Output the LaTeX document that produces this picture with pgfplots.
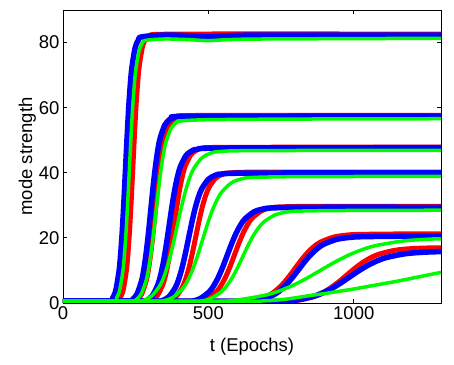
\documentclass[border=0pt]{standalone}
\usepackage{pgfplots}
\pgfplotsset{compat=1.18}
\usepackage{fontspec}
\setmainfont{Liberation Sans}
\usetikzlibrary{calc}
\definecolor{mblue}{RGB}{0,0,255}
\definecolor{mred}{RGB}{255,0,0}
\definecolor{mgreen}{RGB}{0,250,0}
\newcommand{\lbl}{\fontsize{18.5bp}{22bp}\selectfont}
\pgfplotsset{
  rd/.style={mred, line width=5bp, smooth, mark=none, line join=round},
  bl/.style={mblue, line width=5.5bp, smooth, mark=none, line join=round},
  gr/.style={mgreen, line width=3.5bp, smooth, mark=none, line join=round},
}
\begin{document}
\begin{tikzpicture}
\begin{axis}[name=ax, scale only axis, width=378bp, height=293bp,
  xmin=0, xmax=1300, ymin=0, ymax=90,
  xtick={0,500,1000}, ytick={0,20,40,60,80},
  tick align=inside, tick pos=both, major tick length=4bp,
  axis line style={line width=0.8bp},
  every tick/.style={black, line width=0.8bp},
  /pgf/number format/assume math mode=true,
  /pgf/number format/1000 sep={},
  scaled x ticks=false,
  ticklabel style={font=\lbl},
  label style={font=\lbl},
  xlabel={t (Epochs)}, ylabel={mode strength},
  xlabel style={at={(axis description cs:0.5,-0.167)}, anchor=base},
  ylabel style={at={(axis description cs:-0.082,0.5)}, anchor=base},
]
% red
\addplot[rd] coordinates {(0,0.5) (184.4,0.55) (195.6,1.49) (206.7,3.92) (217.8,9.85) (223.3,15.07) (228.9,22.21) (234.4,31.18) (240,41.3) (245.6,51.42) (251.1,60.39) (256.7,67.53) (262.2,72.75) (273.3,78.68) (284.4,81.11) (295.6,82.05) (400,82.6) (1300,82.6)};
\addplot[rd] coordinates {(0,0.5) (238.6,0.5) (254.5,1.04) (270.4,2.73) (286.3,6.87) (294.2,10.51) (302.1,15.49) (310.1,21.75) (318,28.8) (325.9,35.85) (333.9,42.11) (341.8,47.09) (349.7,50.73) (365.6,54.87) (381.5,56.56) (397.4,57.21) (470,57.6) (1300,57.6)};
\addplot[rd] coordinates {(0,0.5) (285.9,0.5) (305.1,0.86) (324.3,2.27) (343.5,5.70) (353.2,8.72) (362.8,12.86) (372.4,18.05) (382,23.9) (391.6,29.75) (401.2,34.94) (410.8,39.08) (420.5,42.1) (439.7,45.53) (458.9,46.94) (478.2,47.48) (560,47.8) (1300,47.9)};
\addplot[rd] coordinates {(0,0.5) (342.4,0.5) (365.1,0.72) (387.8,1.91) (410.5,4.79) (421.9,7.33) (433.3,10.81) (444.6,15.18) (456,20.1) (467.4,25.02) (478.7,29.39) (490.1,32.87) (501.5,35.41) (524.2,38.29) (546.9,39.48) (569.7,39.93) (680,40.2) (1300,40.2)};
\addplot[rd] coordinates {(0,0.5) (436.2,0.5) (466.9,0.53) (497.7,1.41) (528.5,3.54) (543.8,5.42) (559.2,7.99) (574.6,11.21) (590,14.85) (605.4,18.49) (620.8,21.71) (636.2,24.28) (651.5,26.16) (682.3,28.29) (713.1,29.17) (743.9,29.5) (870,29.7) (1300,29.7)};
\addplot[rd] coordinates {(0,0.5) (580.6,0.5) (624.1,0.5) (667.6,1.01) (711,2.53) (732.8,3.87) (754.5,5.7) (776.3,8.0) (798,10.6) (819.7,13.2) (841.5,15.5) (863.2,17.33) (885,18.67) (928.4,20.19) (971.9,20.82) (1015.4,21.06) (1150,21.2) (1300,21.2)};
\addplot[rd] coordinates {(0,0.5) (697.2,0.5) (752.8,0.5) (808.3,0.81) (863.9,2.03) (891.7,3.1) (919.4,4.57) (947.2,6.42) (975,8.5) (1002.8,10.58) (1030.6,12.43) (1058.3,13.9) (1086.1,14.97) (1141.7,16.19) (1197.2,16.69) (1252.8,16.89) (1300,16.95)};
% blue
\addplot[bl] coordinates {(0,0.5) (159.4,0.55) (170.6,1.48) (181.7,3.90) (192.8,9.81) (198.3,15.01) (203.9,22.13) (209.4,31.07) (215,41.15) (220.6,51.23) (226.1,60.17) (231.7,67.29) (237.2,72.49) (248.3,78.40) (259.4,80.82) (270.6,81.75) (350,82.3) (430,82.1) (500,81.8) (570,82.1) (700,82.3) (1300,82.3)};
\addplot[bl] coordinates {(0,0.5) (222.6,0.5) (238.5,1.03) (254.4,2.72) (270.3,6.83) (278.2,10.45) (286.1,15.41) (294.1,21.63) (302,28.65) (309.9,35.67) (317.9,41.89) (325.8,46.85) (333.7,50.47) (349.6,54.58) (365.5,56.27) (381.4,56.92) (450,57.3) (1300,57.4)};
\addplot[bl] coordinates {(0,0.5) (268.8,0.5) (288.1,0.85) (307.3,2.25) (326.5,5.66) (336.2,8.67) (345.8,12.77) (355.4,17.93) (365,23.75) (374.6,29.57) (384.2,34.73) (393.8,38.83) (403.5,41.84) (422.7,45.25) (441.9,46.65) (461.2,47.18) (550,47.6) (1300,47.7)};
\addplot[bl] coordinates {(0,0.5) (318.4,0.5) (341.1,0.72) (363.8,1.89) (386.5,4.76) (397.9,7.28) (409.3,10.73) (420.6,15.06) (432,19.95) (443.4,24.84) (454.7,29.17) (466.1,32.62) (477.5,35.14) (500.2,38.01) (522.9,39.18) (545.7,39.63) (650,39.9) (1300,40.0)};
\addplot[bl] coordinates {(0,0.5) (411.2,0.5) (441.9,0.53) (472.7,1.39) (503.5,3.5) (518.8,5.36) (534.2,7.91) (549.6,11.10) (565,14.7) (580.4,18.3) (595.8,21.49) (611.2,24.04) (626.5,25.9) (657.3,28.01) (688.1,28.87) (718.9,29.2) (850,29.4) (1300,29.4)};
\addplot[bl] coordinates {(0,0.5) (592.6,0.5) (636.1,0.5) (679.6,0.97) (723,2.44) (744.8,3.74) (766.5,5.51) (788.3,7.74) (810,10.25) (831.7,12.76) (853.5,14.99) (875.2,16.76) (897,18.06) (940.4,19.53) (983.9,20.13) (1027.4,20.36) (1150,20.5) (1300,20.5)};
\addplot[bl] coordinates {(0,0.5) (662.4,0.5) (726.9,0.5) (791.4,0.75) (856,1.9) (888.2,2.9) (920.5,4.28) (952.7,6.0) (985,7.95) (1017.3,9.9) (1049.5,11.62) (1081.8,13.0) (1114,14.0) (1178.6,15.15) (1243.1,15.61) (1300,15.78)};
% green
\addplot[gr] coordinates {(0,0.5) (172.4,0.54) (183.6,1.46) (194.7,3.85) (205.8,9.68) (211.3,14.81) (216.9,21.84) (222.4,30.66) (228,40.6) (233.6,50.54) (239.1,59.36) (244.7,66.39) (250.2,71.52) (261.3,77.35) (272.4,79.74) (283.6,80.66) (350,81.1) (430,80.9) (500,80.6) (570,80.9) (700,81.1) (1300,81.3)};
\addplot[gr] coordinates {(0,0.5) (233.8,0.5) (251,1.01) (268.3,2.67) (285.5,6.71) (294.1,10.27) (302.8,15.14) (311.4,21.26) (320,28.15) (328.6,35.04) (337.2,41.16) (345.9,46.03) (354.5,49.59) (371.7,53.63) (389,55.29) (406.2,55.92) (500,56.3) (800,56.5) (1300,56.6)};
\addplot[gr] coordinates {(0,0.5) (249.1,0.5) (277.7,0.84) (306.3,2.22) (334.9,5.58) (349.1,8.54) (363.4,12.59) (377.7,17.67) (392,23.4) (406.3,29.13) (420.6,34.21) (434.9,38.26) (449.1,41.22) (477.7,44.58) (506.3,45.96) (534.9,46.49) (650,46.8) (1300,46.9)};
\addplot[gr] coordinates {(0,0.5) (313.3,0.5) (346.7,0.70) (380,1.84) (413.3,4.62) (430,7.08) (446.7,10.43) (463.3,14.65) (480,19.4) (496.7,24.15) (513.3,28.37) (530,31.72) (546.7,34.18) (580,36.96) (613.3,38.1) (646.7,38.54) (800,38.8) (1300,38.9)};
\addplot[gr] coordinates {(0,0.5) (432.8,0.5) (469.8,0.51) (506.9,1.35) (543.9,3.39) (562.4,5.18) (581,7.64) (599.5,10.72) (618,14.2) (636.5,17.68) (655,20.76) (673.6,23.22) (692.1,25.01) (729.1,27.05) (766.2,27.89) (803.2,28.21) (950,28.4) (1300,28.5)};
\addplot[gr] coordinates {(0,0.5) (504,0.5) (599.3,0.95) (694.5,2.38) (742.1,3.65) (789.8,5.38) (837.4,7.55) (885,10) (932.6,12.45) (980.2,14.62) (1027.9,16.35) (1075.5,17.62) (1170.7,19.05) (1266,19.64) (1300,19.72)};
\addplot[gr] coordinates {(0,0.5) (600,0.5) (680,0.6) (750,1.0) (800,1.6) (850,2.3) (900,2.9) (950,3.6) (1000,4.3) (1050,5.1) (1100,5.9) (1150,6.7) (1200,7.6) (1250,8.5) (1300,9.4)};
\end{axis}
\pgfresetboundingbox
\path ($(ax.south west)+(-63bp,-62bp)$) rectangle ($(ax.north east)+(13bp,10bp)$);
\end{tikzpicture}
\end{document}
